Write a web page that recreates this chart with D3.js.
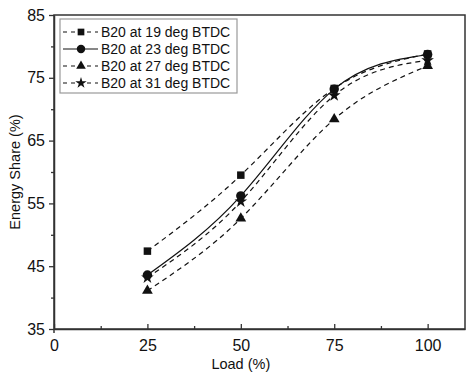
<!DOCTYPE html>
<html>
<head>
<meta charset="utf-8">
<script src="https://cdn.jsdelivr.net/npm/d3@7"></script>
<style>
  body { margin: 0; background: #fff; }
  svg { font-family: Arial, "Liberation Sans", sans-serif; }
</style>
</head>
<body>
<div id="chart"></div>
<script>
// data
var loads = [25, 50, 75, 100];
var deg19 = [47.4, 59.5, 73.3, 78.8];
var deg23 = [43.6, 56.2, 73.2, 78.7];
var deg27 = [41.1, 52.6, 68.4, 76.9];
var deg31 = [43.2, 55.3, 72.2, 77.8];
var seriesNames = ["B20 at 19 deg BTDC", "B20 at 23 deg BTDC", "B20 at 27 deg BTDC", "B20 at 31 deg BTDC"];
var xTicks = [0, 25, 50, 75, 100];
var yTicks = [35, 45, 55, 65, 75, 85];

var W = 474, H = 384;
var margin = {top: 15, right: 9, bottom: 55, left: 54};
var width = W - margin.left - margin.right, height = H - margin.top - margin.bottom;

var svg = d3.select("#chart").append("svg")
    .attr("width", W).attr("height", H);
var g = svg.append("g")
    .attr("transform", "translate(" + margin.left + "," + margin.top + ")");

var x = d3.scaleLinear().domain([0, 110]).range([0, width]);
var y = d3.scaleLinear().domain([35, 85]).range([height, 0]);

var frameColor = "#333";

// x axis: ticks pointing inward
g.append("g")
    .attr("transform", "translate(0," + height + ")")
    .call(d3.axisBottom(x).tickValues(xTicks).tickSize(-5).tickPadding(11).tickSizeOuter(0));
g.append("g")
    .attr("transform", "translate(0," + height + ")")
    .call(d3.axisBottom(x).tickValues([12.5, 37.5, 62.5, 87.5]).tickSize(-3).tickFormat("").tickSizeOuter(0))
    .select(".domain").remove();

// y axis: ticks pointing outward
g.append("g")
    .call(d3.axisLeft(y).tickValues(yTicks).tickSize(5).tickPadding(4).tickSizeOuter(0));
g.append("g")
    .call(d3.axisLeft(y).tickValues([40, 50, 60, 70, 80]).tickSize(3).tickFormat("").tickSizeOuter(0))
    .select(".domain").remove();

g.selectAll(".tick text").style("font-size", "16px").attr("fill", "#111");
g.selectAll(".tick line").attr("stroke", frameColor).attr("stroke-width", 1.3);
g.selectAll(".domain").attr("stroke", frameColor).attr("stroke-width", 1.5);

// frame top and right
g.append("rect")
    .attr("x", 0).attr("y", 0).attr("width", width).attr("height", height)
    .attr("fill", "none").attr("stroke", frameColor).attr("stroke-width", 1.5);
// y axis runs a little below the x axis
g.append("line")
    .attr("x1", 0).attr("x2", 0).attr("y1", height).attr("y2", height + 4)
    .attr("stroke", frameColor).attr("stroke-width", 1.5);

// axis titles
svg.append("text")
    .attr("x", margin.left + x(50)).attr("y", 369)
    .attr("text-anchor", "middle").style("font-size", "14.5px").attr("fill", "#111")
    .text("Load (%)");
svg.append("text")
    .attr("transform", "translate(20," + (margin.top + height / 2) + ") rotate(-90)")
    .attr("text-anchor", "middle").style("font-size", "14.5px").attr("fill", "#111")
    .text("Energy Share (%)");

var series = [
    {name: seriesNames[0], values: deg19, symbol: d3.symbolSquare, size: 56, dash: "5,4"},
    {name: seriesNames[1], values: deg23, symbol: d3.symbolCircle, size: 70, dash: null},
    {name: seriesNames[2], values: deg27, symbol: d3.symbolTriangle, size: 50, dash: "5,4"},
    {name: seriesNames[3], values: deg31, symbol: d3.symbolStar, size: 50, dash: "5,4"}
];

var line = d3.line()
    .x(function(d) { return x(d[0]); })
    .y(function(d) { return y(d[1]); })
    .curve(d3.curveNatural);

series.forEach(function(s) {
    var pts = loads.map(function(l, i) { return [l, s.values[i]]; });
    g.append("path")
        .datum(pts)
        .attr("d", line)
        .attr("fill", "none")
        .attr("stroke", "#111")
        .attr("stroke-width", 1.2)
        .attr("stroke-dasharray", s.dash);
    g.selectAll(null)
        .data(pts)
        .enter().append("path")
        .attr("transform", function(d) { return "translate(" + x(d[0]) + "," + y(d[1]) + ")"; })
        .attr("d", d3.symbol().type(s.symbol).size(s.size))
        .attr("fill", "#111");
});

// legend
var legend = svg.append("g").attr("transform", "translate(60,19)");
legend.append("rect")
    .attr("width", 177).attr("height", 74)
    .attr("fill", "#fff").attr("stroke", "#999").attr("stroke-width", 1.2);
series.forEach(function(s, i) {
    var ly = 13 + i * 17;
    legend.append("line")
        .attr("x1", 3).attr("x2", 38).attr("y1", ly).attr("y2", ly)
        .attr("stroke", "#111").attr("stroke-width", 1.2)
        .attr("stroke-dasharray", s.dash ? "4,4" : null);
    legend.append("path")
        .attr("transform", "translate(21," + ly + ")")
        .attr("d", d3.symbol().type(s.symbol).size(s.size * 0.8))
        .attr("fill", "#111");
    legend.append("text")
        .attr("x", 41).attr("y", ly + 5)
        .style("font-size", "14px").attr("fill", "#111")
        .text(s.name);
});
</script>
</body>
</html>
